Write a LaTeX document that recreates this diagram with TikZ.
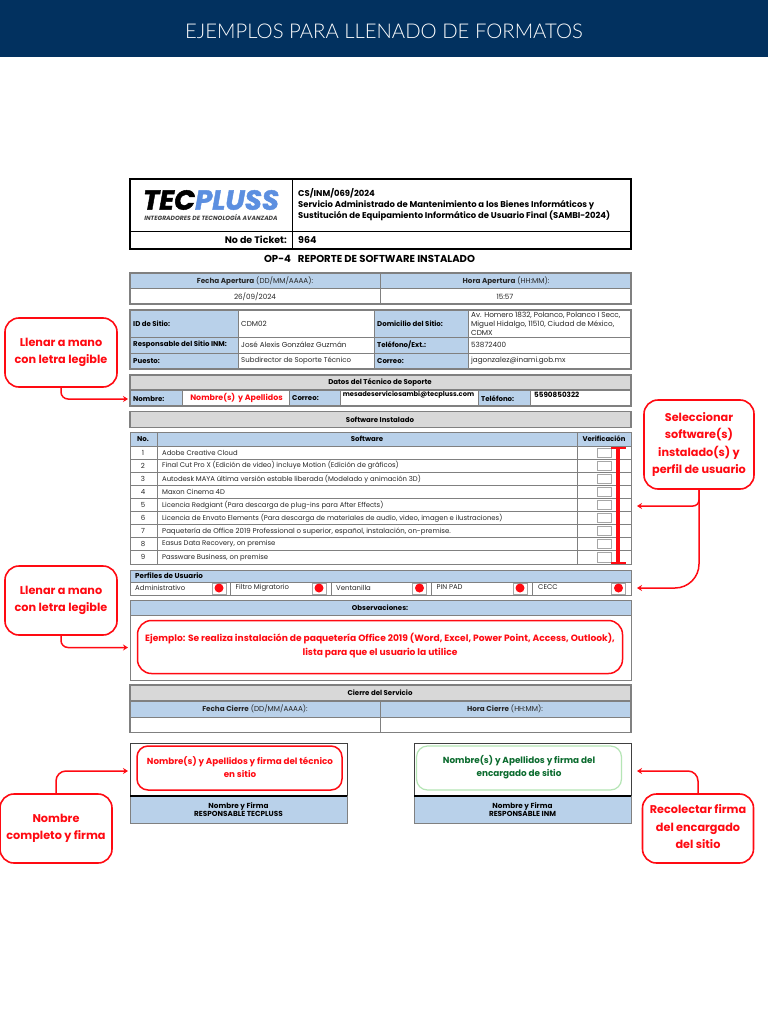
\documentclass[tikz,border=0pt]{standalone}
\usepackage{fontspec}
\setmainfont{Poppins}
\newfontfamily\titlef{Lato Light}
\newfontfamily\logof[FakeBold=1.6]{Poppins}
\usetikzlibrary{arrows.meta}
\definecolor{navy}{HTML}{02315F}
\definecolor{hblue}{HTML}{B9D1EA}
\definecolor{hgray}{HTML}{D8D8D8}
\definecolor{gridc}{HTML}{808080}
\definecolor{redc}{HTML}{FF0A12}
\definecolor{greent}{HTML}{0B6B2E}
\definecolor{greenl}{HTML}{B5E5B5}
\definecolor{logob}{HTML}{5C8FE0}
\newcommand\cst{\rule[-3.5pt]{0pt}{11pt}}
\tikzset{
  x=1pt,y=-1pt,
  cellb/.style={fill=hblue,draw=gridc,line width=1pt},
  cellw/.style={fill=white,draw=gridc,line width=.8pt},
  cellg/.style={fill=hgray,draw=gridc,line width=1.2pt},
  outer/.style={draw=gridc,line width=1.3pt},
  frm/.style={font=\fontsize{7.2}{9}\selectfont,text=black!85,inner sep=0pt},
  frmb/.style={font=\fontsize{7}{9}\bfseries\selectfont,text=black,inner sep=0pt},
  callout/.style={draw=redc,line width=1.6pt,rounded corners=14pt,fill=white,align=center,text=redc,
    font=\fontsize{11.25}{17.5}\selectfont\bfseries},
  inred/.style={align=center,text=redc,font=\fontsize{8.75}{13.5}\selectfont\bfseries,inner sep=0pt},
  ingreen/.style={align=center,text=greent,font=\fontsize{8.85}{13.5}\selectfont\bfseries,inner sep=0pt},
  conn/.style={draw=redc,line width=1.5pt,-{Stealth[length=5pt,width=6pt]},rounded corners=7pt},
  chk/.style={fill=white,draw=gray!70,line width=.8pt},
  dotr/.style={fill=redc,circle,minimum size=9pt,inner sep=0pt}
}
\begin{document}
\begin{tikzpicture}
\useasboundingbox (0,0) rectangle (768,1024);
\fill[white] (0,0) rectangle (768,1024);
\fill[navy] (0,0) rectangle (768,57);
\node[text=white,font=\titlef\fontsize{20.3}{22}\selectfont] (title) at (384,31.5) {EJEMPLOS PARA LLENADO DE FORMATOS};

% header block
\draw[black,line width=1.2pt,fill=white] (130,179) rectangle (631,249);
\draw[black,line width=.8pt] (130,231) -- (631,231) (292,179) -- (292,249);
\node[inner sep=0pt,font=\logof\fontsize{27.5}{27.5}\bfseries\itshape\selectfont] (logo) at (211,200) {\textcolor{black}{TEC}\textcolor{logob}{PLUSS}};
\node[inner sep=0pt,font=\fontsize{6.1}{7}\bfseries\itshape\selectfont,text=black!75] (logot) at (211,218) {INTEGRADORES DE TECNOLOGÍA AVANZADA};
\node[anchor=west,inner sep=0pt,font=\fontsize{8.45}{11}\bfseries\selectfont,align=left] (hdr) at (298,205) {CS/INM/069/2024\\Servicio Administrado de Mantenimiento a los Bienes Informáticos y\\Sustitución de Equipamiento Informático de Usuario Final (SAMBI-2024)};
\node[anchor=east,inner sep=0pt,font=\fontsize{9.5}{11}\bfseries\selectfont] (tk) at (287,240) {No de Ticket:};
\node[anchor=west,inner sep=0pt,font=\fontsize{9.5}{11}\bfseries\selectfont] (tkv) at (298,240) {964};
\node[inner sep=0pt,font=\fontsize{10.1}{11}\bfseries\selectfont] (op) at (369.5,259) {OP-4\hspace{7pt}REPORTE DE SOFTWARE INSTALADO};

% Apertura
\draw[cellb] (130,273) rectangle (380.5,288.5);
\draw[cellb] (380.5,273) rectangle (631,288.5);
\draw[cellw] (130,288.5) rectangle (380.5,304);
\draw[cellw] (380.5,288.5) rectangle (631,304);
\draw[outer] (130,273) rectangle (631,304);
\node[frm] (fa) at (255,281) {\textbf{Fecha Apertura} (DD/MM/AAAA):};
\node[frm] (ha) at (506,281) {\textbf{Hora Apertura} (HH:MM):};
\node[frm] (fav) at (255,297) {26/09/2024};
\node[frm] (hav) at (505,297) {15:57};

% Sitio
\draw[cellb] (130,310) rectangle (238,337);
\draw[cellb] (130,337) rectangle (238,353);
\draw[cellb] (130,353) rectangle (238,369);
\draw[cellw] (238,310) rectangle (374,337);
\draw[cellw] (238,337) rectangle (374,353);
\draw[cellw] (238,353) rectangle (374,369);
\draw[cellb] (374,310) rectangle (468,337);
\draw[cellb] (374,337) rectangle (468,353);
\draw[cellb] (374,353) rectangle (468,369);
\draw[cellw] (468,310) rectangle (631,337);
\draw[cellw] (468,337) rectangle (631,353);
\draw[cellw] (468,353) rectangle (631,369);
\draw[outer] (130,310) rectangle (631,369);
\node[frmb,anchor=west] (s1) at (133,324) {ID de Sitio:};
\node[frmb,anchor=west] (s2) at (133,345) {Responsable del Sitio INM:};
\node[frmb,anchor=west] (s3) at (133,361) {Puesto:};
\node[frm,anchor=west] (s4) at (241,324) {CDM02};
\node[frm,anchor=west] (s5) at (241,345) {José Alexis González Guzmán};
\node[frm,anchor=west,font=\fontsize{7}{9}\selectfont] (s6) at (241,361) {Subdirector de Soporte Técnico};
\node[frmb,anchor=west] (s7) at (377,324) {Domicilio del Sitio:};
\node[frmb,anchor=west] (s8) at (377,345) {Teléfono/Ext.:};
\node[frmb,anchor=west] (s9) at (377,361) {Correo:};
\node[frm,anchor=west,align=left,font=\fontsize{7.25}{8.7}\selectfont] (s10) at (471,324) {Av. Homero 1832, Polanco, Polanco I Secc,\\Miguel Hidalgo, 11510, Ciudad de México,\\CDMX};
\node[frm,anchor=west] (s11) at (471,345) {53872400};
\node[frm,anchor=west] (s12) at (471,361) {jagonzalez@inami.gob.mx};

% Tecnico
\draw[cellg] (130,375) rectangle (631,390);
\draw[cellb] (130,390) rectangle (182,406);
\draw[cellw] (182,390) rectangle (289,406);
\draw[cellb] (289,390) rectangle (340,406);
\draw[cellw] (340,390) rectangle (478,406);
\draw[cellb] (478,390) rectangle (530,406);
\draw[cellw] (530,390) rectangle (631,406);
\draw[gridc,line width=1.3pt] (130,375) rectangle (631,406);
\node[frmb] (t0) at (380,382.5) {Datos del Técnico de Soporte};
\node[frmb,anchor=west] (t1) at (133,398.5) {Nombre:};
\node[inner sep=0pt,text=redc,font=\fontsize{7.9}{10}\bfseries\selectfont] (t2) at (236.5,398) {Nombre(s)\, y Apellidos};
\node[frmb,anchor=west] (t3) at (292,398.5) {Correo:};
\node[frmb,anchor=center,font=\fontsize{6.7}{8}\bfseries\selectfont] (t4) at (408.5,394.5) {mesadeserviciosambi@tecpluss.com};
\node[frmb,anchor=west] (t5) at (481,398.5) {Teléfono:};
\node[frmb,anchor=west,font=\fontsize{7.2}{8}\bfseries\selectfont] (t6) at (534,395) {5590850322};

% Software
\draw[cellg] (130,411.5) rectangle (631,427.5);
\node[frmb] (sw0) at (380,419.5) {Software Instalado};
\draw[cellb] (130,432.5) rectangle (157.5,446);
\draw[cellb] (157.5,432.5) rectangle (577,446);
\draw[cellb] (577,432.5) rectangle (631,446);
\node[frmb] (sw1) at (143,439) {No.};
\node[frmb] (sw2) at (367,439) {Software};
\node[frmb,font=\fontsize{6.9}{8}\bfseries\selectfont] (sw3) at (604,439) {Verificación};
\foreach \i/\t in {1/Adobe Creative Cloud,
 2/Final Cut Pro X {(}Edición de video{)} incluye Motion {(}Edición de gráficos{)},
 3/Autodesk MAYA última versión estable liberada {(}Modelado y animación 3D{)},
 4/Maxon Cinema 4D,
 5/Licencia Redgiant {(}Para descarga de plug-ins para After Effects{)},
 6/Licencia de Envato Elements {(}Para descarga de materiales de audio{,} video{,} imagen e ilustraciones{)},
 7/\fontsize{7}{8}\selectfont Paquetería de Office 2019 Professional o superior{,} español{,} instalación{,} on-premise.,
 8/Easus Data Recovery{,} on premise,
 9/Passware Business{,} on premise}{
  \pgfmathsetmacro{\yt}{446+(\i-1)*13.1}
  \pgfmathsetmacro{\yb}{446+\i*13.1}
  \pgfmathsetmacro{\ym}{446+(\i-.5)*13.1}
  \draw[cellw] (130,\yt) rectangle (157.5,\yb);
  \draw[cellw] (157.5,\yt) rectangle (577,\yb);
  \draw[cellw] (577,\yt) rectangle (631,\yb);
  \node[frm,font=\fontsize{7}{8}\selectfont] (n\i) at (143,\ym) {\i};
  \node[frm,anchor=west,font=\fontsize{6.85}{8}\selectfont] (m\i) at (162,\ym) {\t};
  \draw[chk] (597,\yt+2) rectangle (611,\yb-2);
}
% bar
\draw[redc,line width=3.6pt] (618,448) -- (618,563);
\draw[redc,line width=2.6pt] (611,448) -- (625.5,448) (611,563) -- (625.5,563);

% Perfiles
\draw[cellb] (130,570) rectangle (631,582);
\draw[cellw] (130,582) rectangle (631,595);
\draw[gridc,line width=.8pt] (230.5,582) -- (230.5,595) (331,582) -- (331,595) (431,582) -- (431,595) (532,582) -- (532,595);
\node[frmb,anchor=west,font=\fontsize{7.15}{8}\bfseries\selectfont] (p0) at (135,576) {Perfiles de Usuario};
\foreach \x/\t/\cx/\k in {135/Administrativo/219/a,235.5/Filtro Migratorio/319/b,336/Ventanilla/419.5/c,436.5/PIN PAD/520/d,538/CECC/618.5/e}{
  \node[frm,anchor=west,font=\fontsize{6.9}{8}\selectfont] (pf\k) at (\x,587.5) {\t};
  \draw[chk] (\cx-7,583) rectangle (\cx+7,594);
  \node[dotr] (pd\k) at (\cx,588) {};
}

% Observaciones
\draw[cellb] (130,600) rectangle (631,615);
\draw[cellw] (130,615) rectangle (631,680);
\node[frmb] (ob) at (380,607.5) {Observaciones:};
\node[draw=redc,line width=1.5pt,rounded corners=14pt,minimum width=485pt,minimum height=53pt,fill=white] (obx) at (380,647) {};
\node[inred,font=\fontsize{9.13}{13.5}\selectfont\bfseries] (obt) at (380,645.5) {Ejemplo: Se realiza instalación de paquetería Office 2019 (Word, Excel, Power Point, Access, Outlook),\\lista para que el usuario la utilice};

% Cierre
\draw[cellg] (130,685) rectangle (631,701);
\draw[cellb] (130,701) rectangle (380.5,717);
\draw[cellb] (380.5,701) rectangle (631,717);
\draw[cellw] (130,717) rectangle (380.5,732.5);
\draw[cellw] (380.5,717) rectangle (631,732.5);
\draw[gridc,line width=1.3pt] (130,685) rectangle (631,732.5);
\node[frmb] (c0) at (380,693) {Cierre del Servicio};
\node[frm] (c1) at (255,709) {\textbf{Fecha Cierre} (DD/MM/AAAA):};
\node[frm] (c2) at (505,709) {\textbf{Hora Cierre} (HH:MM):};

% Firmas
\draw[fill=white,draw=black!75,line width=.8pt] (130,743.5) rectangle (347,796);
\draw[cellb] (130,796) rectangle (347,823);
\draw[black,line width=1.2pt] (130,796) -- (347,796);
\draw[fill=white,draw=black!75,line width=.8pt] (414,743.5) rectangle (631,796);
\draw[cellb] (414,796) rectangle (631,823);
\draw[black,line width=1.2pt] (414,796) -- (631,796);
\node[frmb,align=center,font=\fontsize{7.3}{8.6}\bfseries\selectfont] (f1) at (238.5,809.5) {Nombre y Firma\\RESPONSABLE TECPLUSS};
\node[frmb,align=center,font=\fontsize{7.3}{8.6}\bfseries\selectfont] (f2) at (522.5,809.5) {Nombre y Firma\\RESPONSABLE INM};
\node[draw=redc,line width=1.5pt,rounded corners=11pt,minimum width=205pt,minimum height=44pt] (fr) at (239.5,768) {};
\node[inred] (frt) at (240,767) {Nombre(s) y Apellidos y firma del técnico\\en sitio};
\node[draw=greenl,line width=1.2pt,rounded corners=11pt,minimum width=205pt,minimum height=44pt] (fg) at (519,768) {};
\node[ingreen] (fgt) at (519,767) {Nombre(s) y Apellidos y firma del\\encargado de sitio};

% Callouts
\node[callout,minimum width=112pt,minimum height=69pt] (c1a) at (61,352.5) {\cst Llenar a mano\\con letra legible\cst};
\node[callout,minimum width=112pt,minimum height=69pt] (c2a) at (61,600.5) {\cst Llenar a mano\\con letra legible\cst};
\node[callout,minimum width=110pt,minimum height=89pt] (c3a) at (699,444.5) {\cst Seleccionar\\software(s)\\instalado(s) y\\perfil de usuario\cst};
\node[callout,minimum width=112pt,minimum height=69pt] (c4a) at (56,828.5) {\cst Nombre\\completo y firma\cst};
\node[callout,minimum width=111pt,minimum height=69pt] (c5a) at (698,828.5) {\cst Recolectar firma\\del encargado\\del sitio\cst};

\coordinate (e1) at (128,399);
\coordinate (e2) at (128,647.5);
\coordinate (e3) at (637,506);
\coordinate (e3b) at (637,588);
\coordinate (e4) at (128,771);
\coordinate (e5) at (637,771);
\draw[conn] (c1a.south) |- (e1);
\draw[conn] (c2a.south) |- (e2);
\draw[conn,rounded corners=6pt] (c3a.south) |- (e3);
\draw[conn,rounded corners=24pt] (c3a.south) |- (e3b);
\draw[conn,rounded corners=10pt] (c4a.north) |- (e4);
\draw[conn,rounded corners=10pt] (c5a.north) |- (e5);
\end{tikzpicture}
\end{document}
